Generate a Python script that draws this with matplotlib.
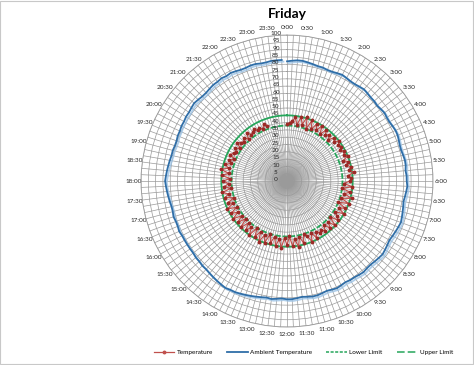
import numpy as np
import matplotlib.pyplot as plt
import matplotlib.patheffects as pe
import matplotlib.transforms as mtrans
from matplotlib.lines import Line2D
from matplotlib.patches import Rectangle

plt.rcParams['font.family'] = ['Lato', 'DejaVu Sans']

# 10-minute readings over the day, labelled every 30 minutes
times = ['%d:%02d' % (h, m) for h in range(24) for m in (0, 10, 20, 30, 40, 50)]
tick_labels = [t if t.endswith(':00') or t.endswith(':30') else '' for t in times]
r_ticks = list(range(0, 101, 5))

nan = np.nan
temperature = [
    39, 40, 41, 44, 39, 45, 40, 46, 38, 45, 39, 44,
    40, 45, 39, 44, 41, 43, 40, 44, 42, 45, 43, 44,
    42, 44, 43, 45, 41, 44, 42, 45, 43, 46, 42, 44,
    43, 39, 45, 38, 44, 40, 46, 39, 45, 38, 44, 40,
    45, 39, 42, 44, 38, 45, 40, 44, 39, 43, 41, 42,
    40, 44, 39, 45, 40, 38, 44, 39, 46, 40, 45, 38,
    44, 39, 46, 40, 45, 39, 44, 38, 45, 40, 46, 39,
    44, 38, 45, 40, 44, 39, 45, 38, 44, 39, 45, 40,
    44, 39, 45, 40, 43, 38, 44, 41, 45, 39, 43, 40,
    44, 39, 45, 40, 46, 41, 44, 40, 42, 39, 43, 41,
    40, 42, 39, 43, 41, 40, 42, 39, 43, 40, 41, 42,
    40, 41, 39, 42, 40, nan, nan, nan, nan, nan, nan, nan,
]
ambient = [
    82, 82.5, 83, 83, 82.5, 82, 81.5, 81.5, 81, 81, 81.5, 82,
    81.5, 81, 81, 81.5, 82, 81.5, 81, 81, 80.5, 81, 81.5, 81,
    81, 81.5, 82, 82, 81.5, 81, 81, 81.5, 82, 82, 81.5, 82,
    82, 82.5, 82, 81.5, 81, 81.5, 82, 82.5, 83, 82.5, 82, 81.5,
    81, 81.5, 82, 82.5, 82, 81.5, 81, 81, 81.5, 81, 80.5, 80.5,
    80, 80.5, 81, 80.5, 80, 80.5, 81, 81, 80.5, 80, 80.5, 81,
    81, 80.5, 81, 81.5, 81, 81.5, 82, 82.5, 83, 83.5, 84, 84,
    84.5, 84, 83.5, 83, 82.5, 82, 82, 81.5, 81.5, 81, 81, 81,
    81, 81, 81.5, 81, 81, 81.5, 81, 81, 81.5, 82, 82.5, 83,
    83.5, 83, 82.5, 82, 81.5, 81, 81, 80.5, 80.5, 81, 81, 81.5,
    81.5, 82, 82, 82.5, 83, 82.5, 82, 82, 82.5, 83, 83, 83.5,
    83, 83.5, 83, 82.5, 82.5, 83, 83, 82.5, 82.5, 83, 83, 83,
]
lower_limit = 38
upper_limit = 45

n = len(times)
theta = np.arange(n) * 2 * np.pi / n
theta_ring = np.linspace(0, 2 * np.pi, 400)

fig = plt.figure(figsize=(4.74, 3.65), dpi=100)
ax = fig.add_axes([0.2975, 0.104, 0.616, 0.8], polar=True)
ax.set_theta_zero_location('N')
ax.set_theta_direction(-1)

grid_col = '#9a9a9a'
txt_col = '#262626'
ax.set_xticks(theta)
ax.set_xticklabels(tick_labels, fontsize=4.6, color=txt_col)
ax.tick_params(axis='x', pad=-5)
ax.set_ylim(0, 100)
ax.set_yticks(r_ticks)
ax.set_yticklabels([])
ax.grid(True, color=grid_col, linewidth=0.5)
ax.spines['polar'].set_color(grid_col)
ax.spines['polar'].set_linewidth(0.6)

# radial labels sit just left of the 0:00 spoke
shift = mtrans.ScaledTranslation(-8 / 72, 1 / 72, fig.dpi_scale_trans)
for v in r_ticks:
    ax.text(0, v, str(v), transform=ax.transData + shift, ha='center', va='center',
            fontsize=4.6, color=txt_col, zorder=6)

green = '#26a65b'
ax.plot(theta_ring, [lower_limit] * len(theta_ring), color=green, lw=1.3, ls=(0, (3, 1)))
ax.plot(theta_ring, [upper_limit] * len(theta_ring), color=green, lw=1.3)

ax.plot(theta, ambient, color='#2f6ea8', lw=1.3,
        path_effects=[pe.SimpleLineShadow(offset=(1.2, -1.2), shadow_color='#9cc3e6', alpha=0.8),
                      pe.Normal()])
ax.plot(theta, temperature, color='#c0504d', lw=0.9, marker='o', ms=1.8,
        markerfacecolor='#9c2a27', markeredgecolor='#9c2a27')

fig.text(0.6055, 0.962, 'Friday', ha='center', va='center', fontsize=10, fontweight='bold')

handles = [
    Line2D([], [], color='#c0504d', lw=0.9, marker='o', ms=1.8),
    Line2D([], [], color='#2f6ea8', lw=1.3),
    Line2D([], [], color=green, lw=1.1, ls=(0, (2, 1))),
    Line2D([], [], color=green, lw=1.1, ls=(0, (5, 2))),
]
fig.legend(handles, ['Temperature', 'Ambient Temperature', 'Lower Limit', 'Upper Limit'],
           loc='center', bbox_to_anchor=(0.64, 0.035), ncol=4, frameon=False,
           fontsize=4.6, handlelength=3.2, columnspacing=2.2, handletextpad=0.4)

fig.patches.append(Rectangle((0.001, 0.003), 0.997, 0.995, transform=fig.transFigure,
                             fill=False, edgecolor='#c8c8c8', lw=0.8))

fig.savefig('out.png', dpi=100)
